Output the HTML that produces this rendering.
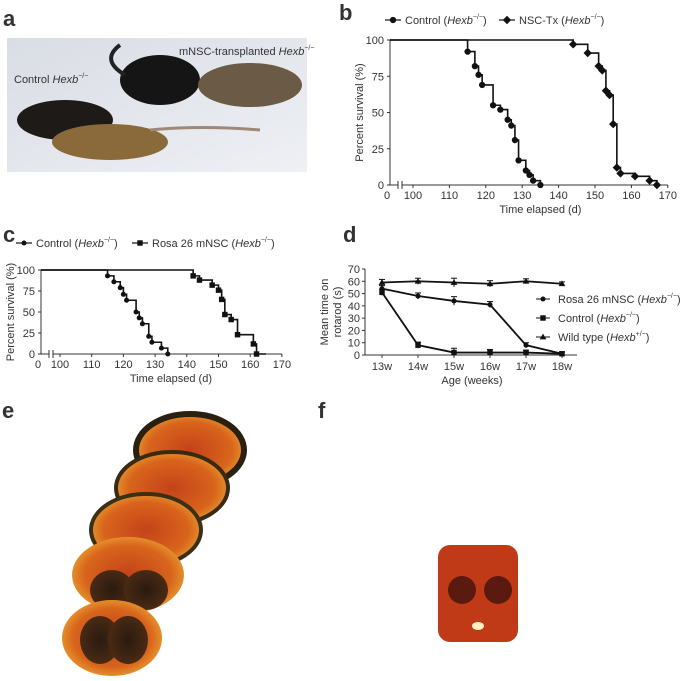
<!DOCTYPE html>
<html><head><meta charset="utf-8"><style>
body{margin:0;background:#fff;width:685px;height:676px;overflow:hidden;font-family:"Liberation Sans",sans-serif}
svg text{font-family:"Liberation Sans",sans-serif;fill:#333}
</style></head><body>
<svg id="fig" width="685" height="676" viewBox="0 0 685 676" xmlns="http://www.w3.org/2000/svg">
<defs>
<radialGradient id="brain" cx="50%" cy="50%" r="55%"><stop offset="0" stop-color="#c4421a"/><stop offset="0.7" stop-color="#d8641c"/><stop offset="1" stop-color="#e9a030"/></radialGradient>
<radialGradient id="dark" cx="50%" cy="50%" r="50%"><stop offset="0" stop-color="#2a1a10"/><stop offset="1" stop-color="#4a2a14"/></radialGradient>
<linearGradient id="bg" x1="0" y1="0" x2="1" y2="1"><stop offset="0" stop-color="#d9dde4"/><stop offset="1" stop-color="#eef0f4"/></linearGradient>
</defs>
<text x="3" y="26" font-size="22" font-weight="bold" fill="#222">a</text>
<g>
<rect x="7" y="38" width="300" height="134" fill="url(#bg)"/>
<ellipse cx="160" cy="80" rx="40" ry="25" fill="#151515"/>
<ellipse cx="250" cy="85" rx="52" ry="22" fill="#6b5a45"/>
<ellipse cx="65" cy="120" rx="48" ry="20" fill="#1e1a18"/>
<ellipse cx="110" cy="142" rx="58" ry="18" fill="#8a6a3a"/>
<path d="M150 130 Q200 125 260 130" stroke="#a08878" stroke-width="3" fill="none"/>
<path d="M125 75 Q100 60 120 45" stroke="#222" stroke-width="4" fill="none"/>
<text x="179" y="55" font-size="11">mNSC-transplanted <tspan font-style="italic">Hexb</tspan><tspan font-size="7" dy="-5">−/−</tspan></text>
<text x="14" y="83" font-size="11">Control <tspan font-style="italic">Hexb</tspan><tspan font-size="7" dy="-5">−/−</tspan></text>
</g>
<text x="339" y="20" font-size="22" font-weight="bold" fill="#222">b</text>
<text x="3" y="242" font-size="22" font-weight="bold" fill="#222">c</text>
<text x="343" y="242" font-size="22" font-weight="bold" fill="#222">d</text>
<text x="2" y="418" font-size="22" font-weight="bold" fill="#222">e</text>
<text x="318" y="418" font-size="22" font-weight="bold" fill="#222">f</text>
<g>
<ellipse cx="190" cy="450" rx="54" ry="36" fill="url(#brain)" stroke="#2a2010" stroke-width="6"/>
<ellipse cx="172" cy="488" rx="56" ry="36" fill="url(#brain)" stroke="#3a2a10" stroke-width="4"/>
<ellipse cx="146" cy="530" rx="55" ry="36" fill="url(#brain)" stroke="#3a3015" stroke-width="4"/>
<ellipse cx="128" cy="575" rx="56" ry="38" fill="url(#brain)"/>
<ellipse cx="112" cy="590" rx="22" ry="20" fill="url(#dark)"/><ellipse cx="146" cy="590" rx="22" ry="20" fill="url(#dark)"/>
<ellipse cx="112" cy="638" rx="50" ry="38" fill="url(#brain)"/>
<ellipse cx="100" cy="640" rx="20" ry="24" fill="url(#dark)"/><ellipse cx="128" cy="640" rx="20" ry="24" fill="url(#dark)"/>
</g>
<g>
<rect x="438" y="545" width="80" height="97" rx="12" fill="#c03a18"/>
<ellipse cx="462" cy="590" rx="14" ry="14" fill="#5a1a10"/><ellipse cx="498" cy="590" rx="14" ry="14" fill="#5a1a10"/>
<ellipse cx="478" cy="626" rx="6" ry="4" fill="#fff2c0"/>
</g>
<g id="b"></g>
<g id="c"></g>
<g id="d"></g>
</svg>
<script>
const bCtrlDays=[115,117,118,119,122,124,126,127,128,129,131,132,133,135];
const bCtrlPct=[92,82,76,69,55,52,45,41,31,17,10,7,3,0];
const bNscDays=[144,148,151,152,153,154,155,156,157,161,165,167];
const bNscPct=[97,91,82,79,65,62,42,12,8,6,3,0];
const cCtrlDays=[115,117,119,120,121,124,125,126,128,129,132,134];
const cCtrlPct=[93,86,79,71,64,50,43,36,21,14,7,0];
const cRosaDays=[142,144,148,150,151,152,154,156,161,162];
const cRosaPct=[93,88,82,76,65,47,41,23,12,0];
const xTicks=[0,100,110,120,130,140,150,160,170];
const yTicks=[0,25,50,75,100];
const weeks=['13w','14w','15w','16w','17w','18w'];
const dRosa=[54,48,44,41,8,1];
const dCtrl=[51,8,2,2,2,1];
const dWT=[59,60,59,58,60,58];
const dErr=[2.5,2.5,3.5,2.5,2,1.5];
const dTicks=[0,10,20,30,40,50,60,70];
const NS='http://www.w3.org/2000/svg';
function el(p,t,a){const e=document.createElementNS(NS,t);for(const k in a)e.setAttribute(k,a[k]);p.appendChild(e);return e;}
function marker(g,shape,x,y,s){
 let m;
 if(shape==='circle')m=el(g,'circle',{cx:x,cy:y,r:s*0.75,fill:'#111'});
 else if(shape==='diamond')m=el(g,'polygon',{points:`${x},${y-s} ${x+s},${y} ${x},${y+s} ${x-s},${y}`,fill:'#111'});
 else if(shape==='square')m=el(g,'rect',{x:x-s*0.8,y:y-s*0.8,width:s*1.6,height:s*1.6,fill:'#111'});
 else m=el(g,'polygon',{points:`${x},${y-s} ${x+s},${y+s*0.7} ${x-s},${y+s*0.7}`,fill:'#111'});
 
 
}
function survival(id,o){
 const g=document.getElementById(id);
 const X=d=>d===0?o.x0:o.x100+(d-100)*o.k, Y=p=>o.y0-(p/100)*(o.y0-o.y100);
 el(g,'line',{x1:o.x0,y1:o.y100,x2:o.x0,y2:o.y0,stroke:'#333','stroke-width':1});
 el(g,'line',{x1:o.x0,y1:o.y0,x2:o.x0+8,y2:o.y0,stroke:'#333'});
 el(g,'line',{x1:o.x0+12,y1:o.y0,x2:X(170),y2:o.y0,stroke:'#333'});
 el(g,'line',{x1:o.x0+8,y1:o.y0-4,x2:o.x0+8,y2:o.y0+4,stroke:'#333'});
 el(g,'line',{x1:o.x0+12,y1:o.y0-4,x2:o.x0+12,y2:o.y0+4,stroke:'#333'});
 xTicks.forEach(t=>{const x=X(t);if(t>0)el(g,'line',{x1:x,y1:o.y0,x2:x,y2:o.y0+3,stroke:'#333'});
  const tx=el(g,'text',{x:t===0?o.x0-3:x,y:o.y0+14,'font-size':11,'text-anchor':'middle'});tx.textContent=t;
  });
 yTicks.forEach(t=>{const y=Y(t);el(g,'line',{x1:o.x0-3,y1:y,x2:o.x0,y2:y,stroke:'#333'});
  const tx=el(g,'text',{x:o.x0-6,y:y+4,'font-size':11,'text-anchor':'end'});tx.textContent=t;
  });
 const xt=el(g,'text',{x:(X(100)+X(170))/2,y:o.y0+28,'font-size':11,'text-anchor':'middle'});xt.textContent='Time elapsed (d)';
 
 const yt=el(g,'text',{x:0,y:0,'font-size':11,'text-anchor':'middle',transform:`translate(${o.x0-27},${(o.y0+o.y100)/2}) rotate(-90)`});yt.textContent='Percent survival (%)';
 
 o.series.forEach(s=>{
  let d=`M${o.x0} ${Y(100)}`,prev=100;
  s.days.forEach((dd,i)=>{d+=` L${X(dd)} ${Y(prev)} L${X(dd)} ${Y(s.pct[i])}`;prev=s.pct[i];});
  if(s.tail)d+=` L${X(s.tail)} ${Y(prev)}`;
  const p=el(g,'path',{d,fill:'none',stroke:'#111','stroke-width':1.6});
  
  s.days.forEach((dd,i)=>marker(g,s.shape,X(dd),Y(s.pct[i]),o.ms));
 });
 o.legend.forEach(l=>{
  el(g,'line',{x1:l.x-8,y1:l.y,x2:l.x+8,y2:l.y,stroke:'#111','stroke-width':1.2});
  marker(g,l.shape,l.x,l.y,o.ms);
  const t=el(g,'text',{x:l.x+12,y:l.y+4,'font-size':11});
  t.innerHTML=`${l.label} (<tspan font-style="italic">Hexb</tspan><tspan font-size="7" dy="-5">−/−</tspan><tspan dy="5">)</tspan>`;
  
 });
}
survival('b',{x0:390,x100:413,k:3.64,y0:185,y100:40,ms:4.2,
 series:[{name:'control',days:bCtrlDays,pct:bCtrlPct,shape:'circle'},{name:'nsc-tx',days:bNscDays,pct:bNscPct,shape:'diamond'}],
 legend:[{x:393,y:20,shape:'circle',label:'Control'},{x:507,y:20,shape:'diamond',label:'NSC-Tx'}]});
survival('c',{x0:41,x100:60,k:3.17,y0:354,y100:270,ms:3.4,
 series:[{name:'control',days:cCtrlDays,pct:cCtrlPct,shape:'circle'},{name:'rosa26',days:cRosaDays,pct:cRosaPct,shape:'square',tail:165}],
 legend:[{x:24,y:243,shape:'circle',label:'Control'},{x:140,y:243,shape:'square',label:'Rosa 26 mNSC'}]});
(function(){
 const g=document.getElementById('d');
 const x0=365,y0=355,y70=269,xe=577;
 const X=i=>382+i*36, Y=v=>y0-v/70*(y0-y70);
 el(g,'line',{x1:x0,y1:y70,x2:x0,y2:y0,stroke:'#333'});
 el(g,'line',{x1:x0,y1:y0,x2:xe,y2:y0,stroke:'#333'});
 dTicks.forEach(t=>{el(g,'line',{x1:x0-3,y1:Y(t),x2:x0,y2:Y(t),stroke:'#333'});
  const tx=el(g,'text',{x:x0-5,y:Y(t)+4,'font-size':11,'text-anchor':'end'});tx.textContent=t;
  });
 weeks.forEach((w,i)=>{el(g,'line',{x1:X(i),y1:y0,x2:X(i),y2:y0+3,stroke:'#333'});
  const tx=el(g,'text',{x:X(i),y:y0+15,'font-size':11,'text-anchor':'middle'});tx.textContent=w;
  });
 const xt=el(g,'text',{x:472,y:384,'font-size':11,'text-anchor':'middle'});xt.textContent='Age (weeks)';
 
 const yt=el(g,'text',{'font-size':11,'text-anchor':'middle',transform:'translate(328,312) rotate(-90)'});
 yt.innerHTML='<tspan x="0" dy="0">Mean time on</tspan><tspan x="0" dy="13">rotarod (s)</tspan>';
 
 [[dWT,'triangle','wild-type'],[dRosa,'circle','rosa26'],[dCtrl,'square','control']].forEach(([vals,sh,n])=>{
  const p=el(g,'polyline',{points:vals.map((v,i)=>`${X(i)},${Y(v)}`).join(' '),fill:'none',stroke:'#111','stroke-width':1.8});
  
  vals.forEach((v,i)=>{const e=dErr[i];
   el(g,'line',{x1:X(i),y1:Y(v+e),x2:X(i),y2:Y(v-e),stroke:'#111'});
   el(g,'line',{x1:X(i)-3,y1:Y(v+e),x2:X(i)+3,y2:Y(v+e),stroke:'#111'});
   marker(g,sh,X(i),Y(v),3.4);});
 });
 [['circle','Rosa 26 mNSC','−/−',299],['square','Control','−/−',318],['triangle','Wild type','+/−',337]].forEach(([sh,lab,sup,y])=>{
  el(g,'line',{x1:536,y1:y,x2:550,y2:y,stroke:'#111'});
  marker(g,sh,543,y,3.4);
  const t=el(g,'text',{x:558,y:y+4,'font-size':11});
  t.innerHTML=`${lab} (<tspan font-style="italic">Hexb</tspan><tspan font-size="7" dy="-5">${sup}</tspan><tspan dy="5">)</tspan>`;
  
 });
})();
</script>
</body></html>
